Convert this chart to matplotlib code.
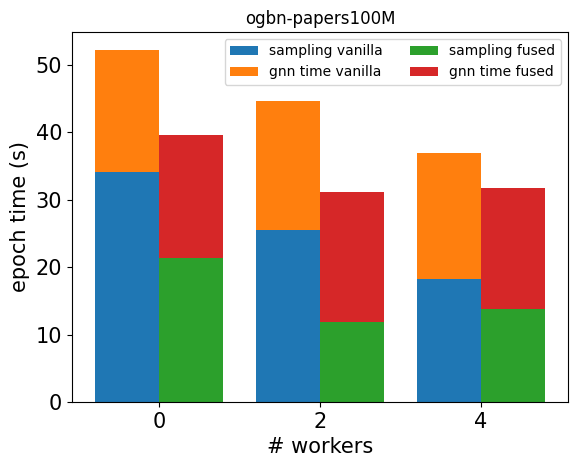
import matplotlib
matplotlib.use("Agg")
import matplotlib.pyplot as plt
import numpy as np

workers = [0, 2, 4]
sampling_vanilla = [34.1, 25.6, 18.3]
gnn_vanilla = [18.2, 19.0, 18.6]
sampling_fused = [21.4, 11.9, 13.8]
gnn_fused = [18.3, 19.2, 17.9]

fig = plt.figure(figsize=(5.77, 4.67), dpi=100)
ax = fig.add_axes([0.1248, 0.1392, 0.8596, 0.7923])
x = np.array(workers, dtype=float)
w = 0.8
ax.bar(x - 0.4, sampling_vanilla, w, color='#1f77b4', label='sampling vanilla')
ax.bar(x - 0.4, gnn_vanilla, w, bottom=sampling_vanilla, color='#ff7f0e', label='gnn time vanilla')
ax.bar(x + 0.4, sampling_fused, w, color='#2ca02c', label='sampling fused')
ax.bar(x + 0.4, gnn_fused, w, bottom=sampling_fused, color='#d62728', label='gnn time fused')
ax.set_xticks(workers)
ax.set_xticklabels([str(v) for v in workers])
ax.tick_params(labelsize=15)
ax.set_xlabel('# workers', fontsize=15)
ax.set_ylabel('epoch time (s)', fontsize=15)
ax.set_title('ogbn-papers100M', fontsize=12)
ax.legend(ncol=2, fontsize=10, loc='upper right')
fig.savefig('out.png', dpi=100)
